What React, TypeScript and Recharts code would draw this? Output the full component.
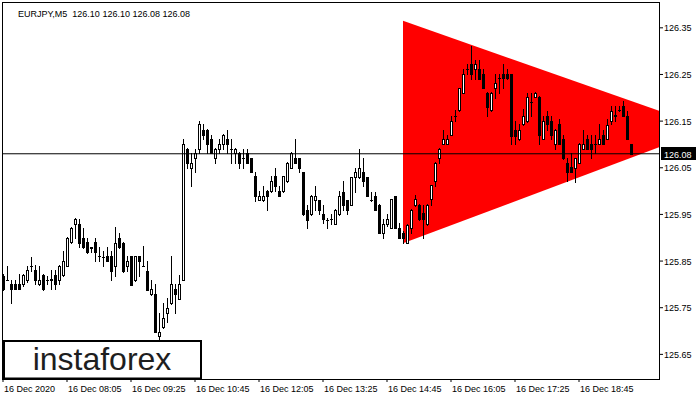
import { ComposedChart, Bar, Area, XAxis, YAxis, ReferenceLine } from 'recharts';

// EURJPY M5 bars, oldest first
const opens = [
  125.819, 125.81, 125.8, 125.8, 125.8, 125.8, 125.81, 125.84, 125.83, 125.8,
  125.821, 125.81, 125.81, 125.821, 125.81, 125.821, 125.84, 125.89, 125.93, 125.93,
  125.9, 125.89, 125.88, 125.89, 125.86, 125.859, 125.86, 125.86, 125.839, 125.9,
  125.889, 125.839, 125.86, 125.809, 125.86, 125.84, 125.828, 125.779, 125.779, 125.689,
  125.708, 125.739, 125.76, 125.79, 125.769, 125.809, 126.091, 126.05, 126.071, 126.091,
  126.132, 126.132, 126.112, 126.071, 126.091, 126.101, 126.112, 126.091, 126.082, 126.082,
  126.071, 126.082, 126.071, 126.032, 125.98, 125.98, 126.0, 126.0, 126.032, 126.001,
  126.0, 126.021, 126.05, 126.071, 126.071, 126.041, 125.96, 125.95, 125.98, 125.98,
  125.95, 125.939, 125.94, 125.93, 125.95, 125.999, 125.98, 125.971, 126.03, 126.03,
  126.04, 126.03, 125.98, 125.989, 125.971, 125.91, 125.93, 125.921, 125.989, 125.921,
  125.91, 125.889, 125.921, 125.971, 125.971, 125.952, 125.93, 125.982, 126.021, 126.071,
  126.101, 126.101, 126.121, 126.162, 126.173, 126.211, 126.262, 126.273, 126.262, 126.262,
  126.251, 126.211, 126.173, 126.221, 126.243, 126.251, 126.251, 126.251, 126.132, 126.112,
  126.143, 126.15, 126.192, 126.202, 126.202, 126.112, 126.161, 126.15, 126.101, 126.143,
  126.111, 126.061, 126.052, 126.05, 126.061, 126.091, 126.112, 126.101, 126.101, 126.101,
  126.121, 126.112, 126.15, 126.161, 126.174, 126.182, 126.162, 126.1,
];
const highs = [
  125.823, 125.839, 125.81, 125.81, 125.823, 125.823, 125.839, 125.859, 125.842, 125.839,
  125.823, 125.818, 125.83, 125.83, 125.842, 125.871, 125.901, 125.923, 125.943, 125.941,
  125.921, 125.9, 125.881, 125.9, 125.88, 125.871, 125.88, 125.871, 125.923, 125.91,
  125.89, 125.86, 125.861, 125.861, 125.861, 125.882, 125.85, 125.81, 125.8, 125.739,
  125.76, 125.771, 125.86, 125.8, 125.821, 126.112, 126.093, 126.082, 126.091, 126.151,
  126.143, 126.133, 126.121, 126.093, 126.112, 126.123, 126.132, 126.112, 126.093, 126.083,
  126.091, 126.091, 126.072, 126.041, 126.0, 126.01, 126.002, 126.032, 126.05, 126.01,
  126.033, 126.062, 126.083, 126.112, 126.072, 126.042, 125.971, 125.991, 126.01, 125.981,
  125.971, 125.942, 125.95, 125.961, 126.0, 126.021, 125.981, 126.031, 126.05, 126.09,
  126.071, 126.031, 125.999, 125.999, 125.972, 125.94, 125.95, 125.983, 125.99, 125.932,
  125.914, 125.93, 125.962, 125.992, 125.972, 125.971, 125.972, 126.013, 126.062, 126.092,
  126.132, 126.121, 126.162, 126.173, 126.222, 126.262, 126.273, 126.312, 126.282, 126.282,
  126.262, 126.212, 126.212, 126.251, 126.251, 126.273, 126.262, 126.252, 126.151, 126.143,
  126.175, 126.211, 126.211, 126.212, 126.203, 126.161, 126.172, 126.161, 126.133, 126.154,
  126.121, 126.071, 126.081, 126.072, 126.103, 126.132, 126.121, 126.121, 126.121, 126.143,
  126.132, 126.154, 126.182, 126.182, 126.182, 126.193, 126.172, 126.1,
];
const lows = [
  125.789, 125.809, 125.76, 125.79, 125.79, 125.796, 125.806, 125.828, 125.8, 125.798,
  125.789, 125.8, 125.79, 125.79, 125.8, 125.819, 125.839, 125.889, 125.9, 125.88,
  125.878, 125.868, 125.869, 125.85, 125.85, 125.84, 125.85, 125.809, 125.819, 125.879,
  125.827, 125.828, 125.798, 125.808, 125.819, 125.839, 125.789, 125.778, 125.697, 125.681,
  125.707, 125.719, 125.759, 125.739, 125.768, 125.809, 126.05, 126.01, 126.041, 126.082,
  126.112, 126.082, 126.082, 126.061, 126.082, 126.091, 126.082, 126.061, 126.061, 126.05,
  126.05, 126.06, 126.041, 125.978, 125.98, 125.979, 125.96, 125.999, 126.0, 125.989,
  125.999, 126.02, 126.049, 126.06, 126.041, 125.948, 125.921, 125.949, 125.96, 125.95,
  125.932, 125.921, 125.93, 125.929, 125.949, 125.96, 125.95, 125.97, 125.999, 126.029,
  126.01, 125.989, 125.979, 125.959, 125.91, 125.899, 125.925, 125.92, 125.92, 125.899,
  125.889, 125.888, 125.91, 125.969, 125.939, 125.899, 125.928, 125.971, 126.01, 126.06,
  126.1, 126.1, 126.12, 126.151, 126.172, 126.21, 126.251, 126.241, 126.241, 126.24,
  126.22, 126.161, 126.172, 126.2, 126.211, 126.221, 126.24, 126.1, 126.1, 126.11,
  126.142, 126.149, 126.161, 126.201, 126.1, 126.111, 126.132, 126.112, 126.091, 126.1,
  126.069, 126.021, 126.04, 126.019, 126.06, 126.09, 126.09, 126.07, 126.082, 126.1,
  126.1, 126.111, 126.143, 126.15, 126.172, 126.16, 126.111, 126.08,
];
const closes = [
  125.79, 125.81, 125.79, 125.79, 125.79, 125.821, 125.83, 125.84, 125.81, 125.81,
  125.79, 125.81, 125.811, 125.8, 125.84, 125.851, 125.9, 125.921, 125.941, 125.889,
  125.88, 125.869, 125.879, 125.869, 125.86, 125.859, 125.85, 125.828, 125.889, 125.88,
  125.828, 125.85, 125.798, 125.86, 125.85, 125.84, 125.789, 125.79, 125.697, 125.698,
  125.728, 125.749, 125.8, 125.779, 125.8, 126.101, 126.061, 126.061, 126.082, 126.143,
  126.121, 126.101, 126.082, 126.091, 126.101, 126.121, 126.101, 126.091, 126.091, 126.061,
  126.071, 126.061, 126.041, 125.989, 125.989, 125.989, 125.989, 126.021, 126.01, 125.99,
  126.032, 126.061, 126.082, 126.061, 126.05, 125.95, 125.939, 125.989, 125.989, 125.96,
  125.94, 125.939, 125.94, 125.96, 125.989, 125.971, 125.96, 126.03, 126.04, 126.05,
  126.021, 125.989, 125.98, 125.96, 125.91, 125.93, 125.94, 125.982, 125.921, 125.9,
  125.9, 125.928, 125.96, 125.982, 125.94, 125.94, 125.971, 126.012, 126.06, 126.09,
  126.112, 126.112, 126.151, 126.162, 126.221, 126.251, 126.262, 126.251, 126.273, 126.241,
  126.221, 126.18, 126.211, 126.232, 126.243, 126.243, 126.243, 126.119, 126.119, 126.132,
  126.161, 126.202, 126.192, 126.211, 126.121, 126.15, 126.143, 126.121, 126.132, 126.101,
  126.07, 126.041, 126.041, 126.071, 126.101, 126.101, 126.091, 126.091, 126.101, 126.111,
  126.101, 126.141, 126.172, 126.163, 126.174, 126.161, 126.111, 126.08,
];

const timeTicks = [0, 16, 32, 48, 64, 80, 96, 112, 128, 144];
const timeLabels = [
  '16 Dec 2020', '16 Dec 08:05', '16 Dec 09:25', '16 Dec 10:45', '16 Dec 12:05',
  '16 Dec 13:25', '16 Dec 14:45', '16 Dec 16:05', '16 Dec 17:25', '16 Dec 18:45',
];
const priceTicks = [125.65, 125.75, 125.85, 125.95, 126.05, 126.15, 126.25, 126.35];

// symmetric triangle: left edge and where it leaves the window
const triIndex = [100, 164];
const triUpper = [126.365, 126.172];
const triLower = [125.888, 126.094];

const symbol = 'EURJPY,M5';

const bars = opens.map((open, i) => ({
  i,
  open,
  high: highs[i],
  low: lows[i],
  close: closes[i],
  range: [lows[i], highs[i]],
}));
const triangle = triIndex.map((i, k) => ({ i, tri: [triLower[k], triUpper[k]] }));
const last = bars[bars.length - 1];
const font = '"Liberation Sans", Arial, sans-serif';

const Candle = (props: any) => {
  const { x, y, width, height, payload } = props;
  const { open, close, high, low } = payload;
  const c = Math.round(x + width / 2);
  const top = Math.min(y, y + height);
  const h = Math.abs(height);
  const span = high - low;
  const py = (v: number) => (span === 0 ? top : top + ((high - v) / span) * h);
  const hi = Math.round(py(high));
  const lo = Math.round(py(low));
  const bTop = Math.round(py(Math.max(open, close)));
  const bBot = Math.round(py(Math.min(open, close)));
  const bull = close > open;
  return (
    <g shapeRendering="crispEdges">
      <rect x={c} y={hi} width={1} height={lo - hi + 1} fill="#000" />
      {bBot - bTop < 1 ? (
        <rect x={c - 1} y={bTop} width={3} height={1} fill="#000" />
      ) : bull ? (
        <rect x={c - 0.5} y={bTop + 0.5} width={2} height={bBot - bTop} fill="#fff" stroke="#000" strokeWidth={1} />
      ) : (
        <rect x={c - 1} y={bTop} width={3} height={bBot - bTop + 1} fill="#000" />
      )}
    </g>
  );
};

const TimeTick = ({ x, y, payload }: any) => (
  <text x={x + 1} y={y + 8} fontSize={9} fontFamily={font} fill="#000" textAnchor="start">
    {timeLabels[timeTicks.indexOf(payload.value)]}
  </text>
);

const PriceTick = ({ x, y, payload }: any) => (
  <text x={x} y={y + 3.5} fontSize={9} fontFamily={font} fill="#000" textAnchor="start">
    {payload.value.toFixed(2)}
  </text>
);

const BidLabel = ({ viewBox }: any) => {
  const left = viewBox.x + viewBox.width + 2;
  const yy = Math.round(viewBox.y);
  return (
    <g>
      <rect x={left} y={yy - 7} width={35} height={13} fill="#000" />
      <text x={left + 3} y={yy + 3.5} fontSize={9} fontFamily={font} fill="#fff">
        {last.close.toFixed(2)}
      </text>
    </g>
  );
};

export default function App() {
  return (
    <div style={{ position: 'absolute', left: 0, top: 0, width: 700, height: 400, background: '#fff' }}>
      <ComposedChart width={700} height={400} data={bars} margin={{ top: 3, right: 0, bottom: 0, left: 3 }}>
        <XAxis
          dataKey="i"
          type="number"
          domain={[0, 164]}
          ticks={timeTicks}
          height={21}
          tickSize={3}
          tickMargin={2}
          axisLine={false}
          tickLine={{ stroke: '#000' }}
          tick={<TimeTick />}
          interval={0}
        />
        <YAxis
          orientation="right"
          type="number"
          domain={[125.5972, 126.4032]}
          allowDataOverflow
          ticks={priceTicks}
          width={41}
          tickSize={4}
          tickMargin={1}
          axisLine={false}
          tickLine={{ stroke: '#000' }}
          tick={<PriceTick />}
          interval={0}
        />
        <Area
          data={triangle}
          dataKey="tri"
          type="linear"
          fill="#ff0000"
          fillOpacity={1}
          stroke="none"
          dot={false}
          activeDot={false}
          isAnimationActive={false}
        />
        <Bar dataKey="range" barSize={3} shape={Candle} isAnimationActive={false} />
        <ReferenceLine y={last.close} stroke="#000" strokeWidth={1} label={BidLabel} />
      </ComposedChart>
      <svg width={700} height={400} style={{ position: 'absolute', left: 0, top: 0, pointerEvents: 'none' }}>
        <rect x={2.5} y={2.5} width={657} height={377} fill="none" stroke="#000" strokeWidth={1} shapeRendering="crispEdges" />
        <text x={18} y={16.5} fontSize={9} fontFamily={font} fill="#000" style={{ whiteSpace: 'pre' }}>
          {`${symbol}  ${last.open.toFixed(2)} ${last.high.toFixed(2)} ${last.low.toFixed(2)} ${last.close.toFixed(2)}`}
        </text>
        <rect x={4} y={341} width={197} height={37.5} fill="#fff" stroke="#000" strokeWidth={2} />
        <text x={102} y={370} fontSize={32} fontFamily={font} fill="#1e1e1e" textAnchor="middle">
          instaforex
        </text>
      </svg>
    </div>
  );
}
